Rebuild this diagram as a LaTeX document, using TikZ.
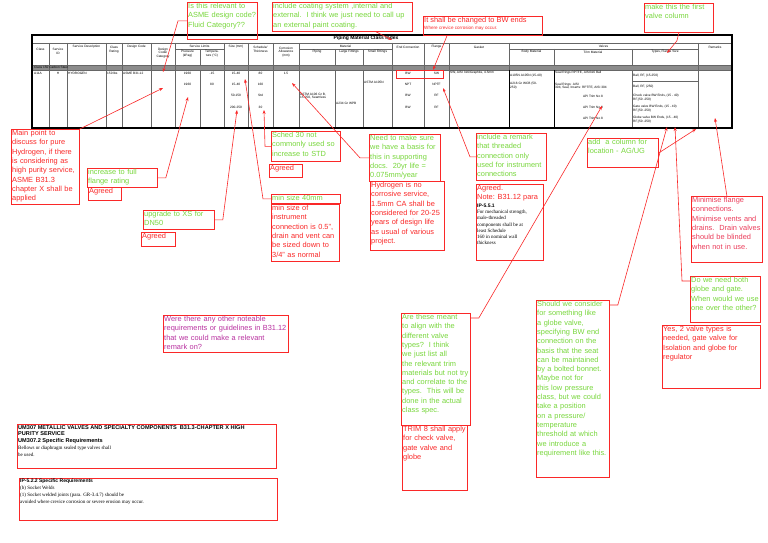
\documentclass[tikz,border=0pt]{standalone}
\usepackage{fontspec}
\setmainfont{Liberation Sans}
\newfontfamily\serifb{Liberation Serif}
\usetikzlibrary{arrows.meta,calc}
\hyphenpenalty=10000
\exhyphenpenalty=10000
\definecolor{cred}{RGB}{250,40,40}
\definecolor{cgreen}{RGB}{120,215,60}
\definecolor{cmag}{RGB}{185,50,160}
\definecolor{cpink}{RGB}{235,60,90}
\tikzset{
  cbx/.style={draw=cred,line width=0.8pt,inner sep=0pt,anchor=north west},
  ctx/.style={anchor=north west,inner sep=1pt,align=left,font=\fontsize{7.4}{9.3}\selectfont},
  ltx/.style={anchor=north west,inner sep=1pt,align=left},
  conn/.style={draw=cred,line width=0.6pt,-{Stealth[length=4pt,width=3pt]}},
  tl/.style={font=\fontsize{3.2}{3.8}\selectfont,inner sep=0pt,align=center},
  tlw/.style={font=\fontsize{3.2}{3.8}\selectfont,inner sep=0pt,align=left,anchor=west},
  grid/.style={draw=black!60,line width=0.4pt},
}
\newcommand{\cbox}[8]{%
  \node[cbx,minimum width=#4pt,minimum height=#5pt] (#1) at (#2,#3) {};
  \node[ctx,text=#6,text width=#7pt] (#1t) at (#1.north west) {#8};}
\begin{document}
\begin{tikzpicture}[x=1pt,y=-1pt]
\useasboundingbox[fill=white] (0,0) rectangle (768,543);
% ---- table ----
\fill[black!45] (32,65) rectangle (732,70);
\foreach \x in {49,67,106,122,151,175,224,248,273,299,392,424,449,509,698}{\draw[grid] (\x,43) -- (\x,128);}
\foreach \x in {200,335,363,554,632}{\draw[grid] (\x,49) -- (\x,65);\draw[grid] (\x,70) -- (\x,128);}
\draw[grid] (175,49) -- (224,49) (299,49) -- (392,49) (509,49) -- (698,49);
\draw[grid] (32,43) -- (732,43) (32,65) -- (732,65) (32,70) -- (732,70) (632,81) -- (698,81);
\draw[line width=0.7pt] (509,70) -- (509,128) (554,70) -- (554,128);
\draw[line width=1.2pt] (32,35) rectangle (732,128);
\node[font=\bfseries\fontsize{5}{6}\selectfont,inner sep=0pt] (ttl) at (366,38.5) {Piping Material Class Index};
\node[tl] (h1) at (40.5,49) {Class};
\node[tl] (h2) at (58,51) {Service\\ID};
\node[tl] (h3) at (86.5,47) {Service Description};
\node[tl] (h4) at (114,50) {Class\\Rating};
\node[tl] (h5) at (136.5,47) {Design Code};
\node[tl] (h6) at (163,53) {Design\\Code/\\Category};
\node[tl] (h7) at (199.5,46) {Service Limits};
\node[tl] (h7a) at (187.5,54) {Pressure\\(kPag)};
\node[tl] (h7b) at (212,54) {Tempera-\\ture (°C)};
\node[tl] (h8) at (236,47) {Size (mm)};
\node[tl] (h9) at (260.5,49) {Schedule/\\Thickness};
\node[tl] (h10) at (286,52) {Corrosion\\Allowance\\(mm)};
\node[tl] (h11) at (345.5,46) {Material};
\node[tl] (h11a) at (317,52) {Piping};
\node[tl] (h11b) at (349,52) {Large Fittings};
\node[tl] (h11c) at (377.5,52) {Small Fittings};
\node[tl] (h12) at (408,47) {End Connection};
\node[tl] (h13) at (436.5,47) {Flange};
\node[tl] (h14) at (479,47) {Gasket};
\node[tl] (h15) at (603.5,46) {Valves};
\node[tl] (h15a) at (531.5,52) {Body Material};
\node[tl] (h15b) at (593,52) {Trim Material};
\node[tl] (h15c) at (665,52) {Types, Flange Size};
\node[tl] (h16) at (715,47) {Remarks};
\node[tlw] (band) at (34,67.5) {Class 150 Carbon Steel};
\node[tlw] (d1) at (34,73) {A11A};
\node[tl] (d2) at (58,73) {H};
\node[tlw] (d3) at (68,73) {HYDROGEN};
\node[tlw] (d4) at (107,73) {150 lbs};
\node[tlw] (d5) at (123,73) {ASME B31.12};
\node[tl] (p1) at (187.5,73) {1960};
\node[tl] (p2) at (187.5,84) {1960};
\node[tl] (t1) at (212,73) {-15};
\node[tl] (t2) at (212,84) {80};
\node[tl] (s1) at (236,73) {15-40};
\node[tl] (s2) at (236,84) {15-40};
\node[tl] (s3) at (236,95.5) {50-150};
\node[tl] (s4) at (236,107) {200-250};
\node[tl] (k1) at (260.5,73) {80};
\node[tl] (k2) at (260.5,84) {160};
\node[tl] (k3) at (260.5,95.5) {Std};
\node[tl] (k4) at (260.5,107) {30};
\node[tl] (ca) at (286,73) {1.5};
\node[tlw] (pip) at (300,96) {ASTM A106 Gr B,\\15-250, Seamless};
\node[tlw] (lf) at (336,103) {A234 Gr WPB};
\node[tlw] (sf) at (364,82) {ASTM A105N};
\node[tl] (e1) at (408,73.5) {BW};
\node[tl] (e2) at (408,84) {NPT};
\node[tl] (e3) at (408,95.5) {BW};
\node[tl] (e4) at (408,107) {BW};
\node[tl] (f1) at (436.5,73.5) {SW};
\node[tl] (f2) at (436.5,84) {NPTF};
\node[tl] (f3) at (436.5,95.5) {RF};
\node[tl] (f4) at (436.5,107) {RF};
\node[tlw] (gs) at (450,73) {SW, AISI 316/Graphite, 4.5mm};
\node[tlw] (bm1) at (510,76) {A105N A105N (15-40)};
\node[tlw] (bm2) at (510,86) {A216 Gr WCB (50-\\250)};
\node[tlw] (tm1) at (555,73) {Seal Rings RPTFE, AISI316 Ball};
\node[tlw] (tm2) at (555,86) {Seal Rings: AISI\\304, Seal, Inserts: RPTFE, AISI 304};
\node[tl] (tm3) at (593,96) {API Trim No 8};
\node[tl] (tm4) at (593,107) {API Trim No 8};
\node[tl] (tm5) at (593,118) {API Trim No 8};
\node[tlw] (ty1) at (633,76) {Ball, RF, (15-250)};
\node[tlw] (ty2) at (633,87) {Ball, RF, (250)};
\node[tlw] (ty3) at (633,98) {Check valve BW Ends, (15 - 40)\\RF,(50 -250)};
\node[tlw] (ty4) at (633,109) {Gate valve BW Ends, (15 - 40)\\RF,(50 -250)};
\node[tlw] (ty5) at (633,120) {Globe valve BW Ends, (15 - 40)\\RF,(50 -250)};
\node[cbx,minimum width=47pt,minimum height=8pt] (bwbox) at (396,70) {};
% ---- arrow targets ----
\coordinate (a1) at (163,72);
\coordinate (a2) at (392,40);
\coordinate (a3) at (433,70);
\coordinate (a4) at (667,53);
\coordinate (a5) at (163,88);
\coordinate (a6) at (188,97);
\coordinate (a7) at (237,110);
\coordinate (a8) at (264,110);
\coordinate (a9) at (245,79);
\coordinate (a10) at (292,83);
\coordinate (a11) at (443,88);
\coordinate (a12) at (696,129);
\coordinate (a13) at (715,118);
\coordinate (a14) at (675,127);
\coordinate (a16) at (602,106);
\coordinate (a17) at (667,127);
% ---- comment boxes ----
\cbox{b1}{187}{2}{70}{37}{cgreen}{68}{Is this relevant to ASME design code?\ \ Fluid Category??}
\cbox{b2}{272}{2}{140}{29}{cgreen}{138}{include coating system ,internal and external.\ \ I think we just need to call up an external paint coating.}
\node[cbx,minimum width=119pt,minimum height=19pt] (b3) at (423,16) {};
\node[ltx,text=cred,font=\fontsize{7.4}{8}\selectfont] (b3t) at (b3.north west) {It shall be changed to BW ends\\[-1pt]{\fontsize{4.6}{5}\selectfont Where crevice corrosion may occur.}};
\cbox{b4}{644}{3}{69}{29}{cgreen}{67}{make this the first valve column}
\cbox{b5}{11}{129}{68}{75}{cred}{66}{Main point to discuss for pure Hydrogen, if there is considering as high purity service, ASME B31.3 chapter X shall be applied}
\cbox{b6}{87}{168}{70}{19}{cgreen}{68}{increase to full flange rating}
\cbox{b6a}{88}{187}{33}{13}{cred}{32}{Agreed}
\cbox{b7}{143}{210}{71}{19}{cgreen}{69}{upgrade to XS for DN50}
\cbox{b7a}{141}{232}{34}{14}{cred}{33}{Agreed}
\cbox{b8}{271}{131}{69}{30}{cgreen}{68}{Sched 30 not commonly used so increase to STD}
\cbox{b8a}{269}{164}{33}{13}{cred}{32}{Agreed}
\cbox{b9}{271}{194}{69}{9}{cgreen}{68}{\vspace{-1.5pt}min size 40mm}
\cbox{b9a}{271}{204}{68}{57}{cred}{66}{min size of instrument connection is 0.5'', drain and vent can be sized down to 3/4'' as normal}
\cbox{b10}{369}{134}{71}{47}{cgreen}{69}{Need to make sure we have a basis for this in supporting docs.\ \ 20yr life = 0.075mm/year}
\cbox{b10a}{370}{181}{74}{69}{cred}{72}{Hydrogen is no corrosive service, 1.5mm CA shall be considered for 20-25 years of design life as usual of various project.}
\cbox{b11}{476}{133}{70}{47}{cgreen}{68}{include a remark that threaded connection only used for instrument connections}
\node[cbx,minimum width=67pt,minimum height=76pt] (b11a) at (476,184) {};
\node[ltx,text=cred,font=\fontsize{7.4}{9.3}\selectfont] (b11at) at (b11a.north west) {Agreed.\\Note: B31.12 para};
\node[ltx,font=\bfseries\fontsize{5}{6}\selectfont] (b11b) at ([yshift=-19pt]b11a.north west) {IP-5.5.1};
\node[ltx,font=\serifb\fontsize{5}{6.2}\selectfont] (b11c) at ([yshift=-25pt]b11a.north west) {For mechanical strength,\\male-threaded\\components shall be at\\least Schedule\\160 in nominal wall\\thickness};
\cbox{b12}{587}{138}{71}{29}{cgreen}{69}{add\ \ a column for location - AG/UG}
\cbox{b13}{691}{196}{71}{66}{cpink}{69}{Minimise flange connections. Minimise vents and drains.\ \ Drain valves should be blinded when not in use.}
\cbox{b14}{690}{276}{70}{46}{cgreen}{68}{Do we need both globe and gate. When would we use one over the other?}
\cbox{b14a}{662}{325}{98}{63}{cred}{96}{Yes, 2 valve types is needed, gate valve for Isolation and globe for regulator}
\cbox{b15}{163}{315}{125}{37}{cmag}{123}{Were there any other noteable requirements or guidelines in B31.12 that we could make a relevant remark on?}
\cbox{b16}{401}{313}{69}{112}{cgreen}{69}{Are these meant to align with the different valve types?\ \ I think we just list all the relevant trim materials but not try and correlate to the types.\ \ This will be done in the actual class spec.}
\cbox{b16a}{402}{425}{65}{65}{cred}{63}{TRIM 8 shall apply for check valve, gate valve and globe}
\cbox{b17}{536}{300}{73}{177}{cgreen}{71}{Should we consider for something like a globe valve, specifying BW end connection on the basis that the seat can be maintained by a bolted bonnet. Maybe not for this low pressure class, but we could take a position on a pressure/ temperature threshold at which we introduce a requirement like this.}
\node[cbx,minimum width=259pt,minimum height=44pt] (q1) at (17,424) {};
\node[ltx,font=\bfseries\fontsize{5.6}{6.6}\selectfont] (q1t) at (q1.north west) {UM307 METALLIC VALVES AND SPECIALTY COMPONENTS\ \ B31.3-CHAPTER X HIGH\\PURITY SERVICE\\UM307.2 Specific Requirements};
\node[ltx,font=\serifb\fontsize{5}{6.4}\selectfont] (q1b) at ([yshift=-21pt]q1.north west) {Bellows or diaphragm sealed type valves shall\\be used.};
\node[cbx,minimum width=258pt,minimum height=42pt] (q2) at (19,478) {};
\node[ltx,font=\bfseries\fontsize{5}{6}\selectfont] (q2t) at (q2.north west) {IP-5.2.2 Specific Requirements};
\node[ltx,font=\serifb\fontsize{5}{6.8}\selectfont] (q2b) at ([yshift=-7pt]q2.north west) {(b) Socket Welds\\(1) Socket welded joints (para. GR-3.4.7) should be\\avoided where crevice corrosion or severe erosion may occur.};
% ---- connectors ----
\draw[conn] (b1.west) -- ++(-9,0) -- (a1);
\draw[conn] ($(b2.south west)+(104,0)$) -- (a2);
\draw[conn] ($(b3.south west)+(24,0)$) -- (a3);
\draw[conn] (b4.south) -- ++(-2,8) -- (a4);
\draw[conn] (b5.north east) -- (a5);
\draw[conn] (b6.east) -- ++(8,0) -- (a6);
\draw[conn] (b7.east) -- ++(8,0) -- (a7);
\draw[conn] (b8.west) -- ++(-6,0) -- (a8);
\draw[conn] (b9.west) -- ++(-8,0) -- (a9);
\draw[conn] (b10.west) -- ++(-9,0) -- (a10);
\draw[conn] (b11.west) -- ++(-6,0) -- (a11);
\draw[conn] (b12.east) -- (a12);
\draw[conn] (b13.north) -- (a13);
\draw[conn] ([yshift=-5pt]b14.north west) -- ++(-8,0) -- (a14);
\draw[conn] ([yshift=-5pt]b16.north east) -- ++(8,0) -- (a16);
\draw[conn] ([yshift=-5pt]b17.north east) -- ++(8,0) -- (a17);
\end{tikzpicture}
\end{document}
